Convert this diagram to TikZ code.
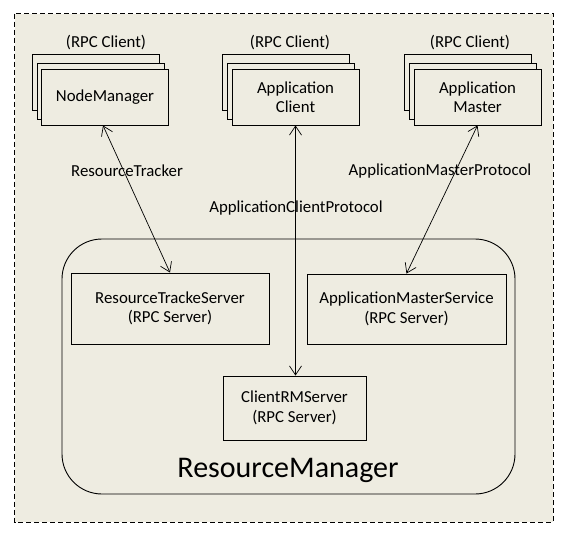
\documentclass[tikz,border=0pt]{standalone}
\usepackage{fontspec}
\setmainfont{Carlito}
\usetikzlibrary{arrows.meta}
\definecolor{bg}{HTML}{EEECE1}
\tikzset{
  box/.style={draw=black, line width=0.9pt, fill=bg, minimum width=127pt, minimum height=56pt, inner sep=0pt, align=center, font=\fontsize{16.8}{19.5}\selectfont},
  srv/.style={draw=black, line width=0.9pt, fill=bg, inner sep=0pt, align=center, font=\fontsize{16.8}{19.5}\selectfont},
  lbl/.style={font=\fontsize{16.8}{19.5}\selectfont, inner sep=0pt},
  conn/.style={line width=0.7pt, {Straight Barb[length=9pt,width=12pt]}-{Straight Barb[length=9pt,width=12pt]}},
}
\begin{document}
\begin{tikzpicture}[x=1pt,y=-1pt]
\useasboundingbox[fill=white] (0,0) rectangle (570,533);
\draw[fill=bg, line width=0.9pt, dash pattern=on 5pt off 3pt] (14.5,13.5) rectangle (553,522);

% client stacks
\foreach \n/\cx in {nm/105, ac/295.5, am/477.5}{
  \node[box] (\n b) at (\cx-9.5,82) {};
  \node[box] (\n m) at (\cx-4.5,91) {};
}
\node[box] (nm) at (105,97) {NodeManager};
\node[box] (ac) at (295.5,97) {Application\\Client};
\node[box] (am) at (477.5,97) {Application\\Master};

\node[lbl] (nmt) at (106,43) {(RPC Client)};
\node[lbl] (act) at (290,43) {(RPC Client)};
\node[lbl] (amt) at (470,43) {(RPC Client)};

% resource manager
\node[draw=black, line width=0.9pt, rounded corners=40pt, minimum width=453pt, minimum height=255pt, inner sep=0pt] (rm) at (288.5,366.5) {};
\node[font=\fontsize{30}{33}\selectfont, inner sep=0pt] (rmt) at (288,470) {ResourceManager};

\node[srv, minimum width=198pt, minimum height=71pt] (rts) at (170,308.5) {ResourceTrackeServer\\(RPC Server)};
\node[srv, minimum width=199pt, minimum height=70pt] (ams) at (406.5,309) {ApplicationMasterService\\(RPC Server)};
\node[srv, minimum width=143pt, minimum height=64pt] (crm) at (294.5,408) {ClientRMServer\\(RPC Server)};

% connectors
\draw[conn] ([xshift=-2pt]nm.south) -- (rts.north);
\draw[conn] (ac.south) -- (ac.south |- crm.north);
\draw[conn] (am.south) -- (ams.north);

\node[lbl] (l1) at (127,171) {ResourceTracker};
\node[lbl] (l2) at (440,171) {ApplicationMasterProtocol};
\node[lbl] (l3) at (296,208) {ApplicationClientProtocol};
\end{tikzpicture}
\end{document}
